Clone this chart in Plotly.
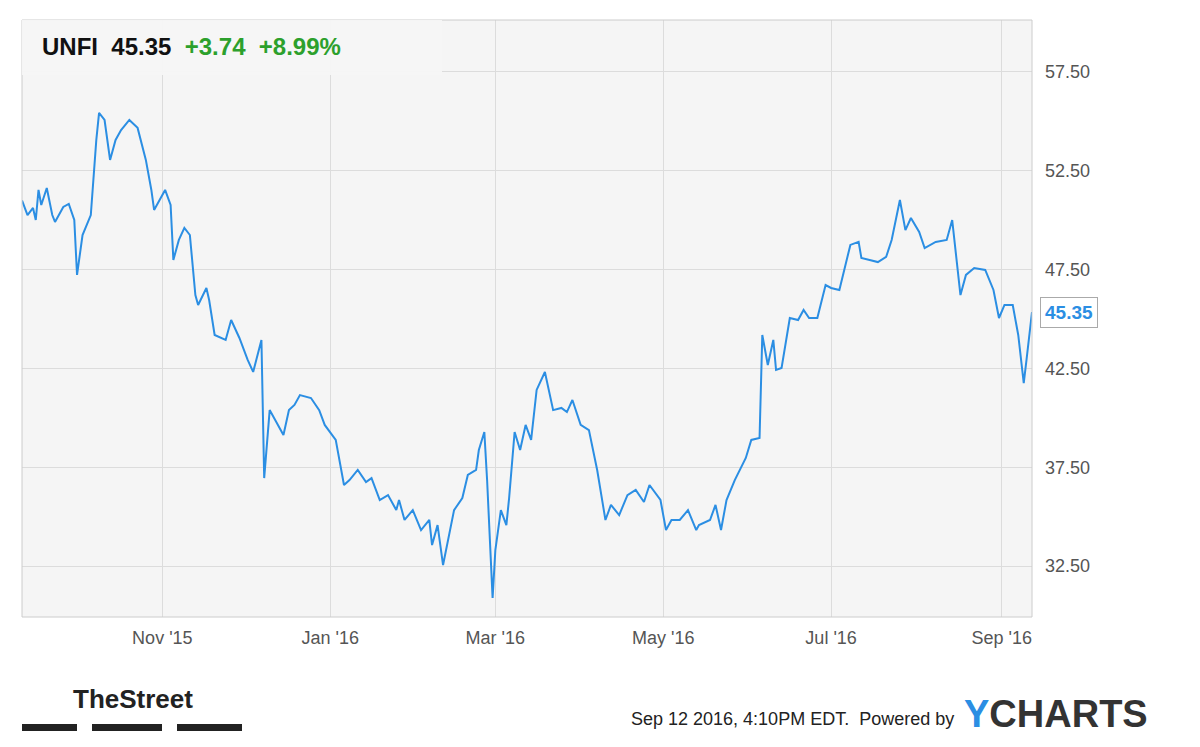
import plotly.graph_objects as go

dates = ["2015-09-11","2015-09-13","2015-09-15","2015-09-16","2015-09-17","2015-09-18","2015-09-20","2015-09-22","2015-09-23","2015-09-26","2015-09-28","2015-09-30","2015-10-01","2015-10-03","2015-10-06","2015-10-08","2015-10-09","2015-10-11","2015-10-13","2015-10-15","2015-10-17","2015-10-20","2015-10-23","2015-10-26","2015-10-28","2015-10-29","2015-10-31","2015-11-02","2015-11-04","2015-11-05","2015-11-07","2015-11-09","2015-11-11","2015-11-13","2015-11-14","2015-11-17","2015-11-18","2015-11-20","2015-11-24","2015-11-26","2015-11-29","2015-12-02","2015-12-04","2015-12-06","2015-12-07","2015-12-08","2015-12-10","2015-12-12","2015-12-15","2015-12-17","2015-12-19","2015-12-21","2015-12-25","2015-12-28","2015-12-30","2016-01-03","2016-01-06","2016-01-08","2016-01-11","2016-01-14","2016-01-16","2016-01-19","2016-01-22","2016-01-25","2016-01-26","2016-01-28","2016-01-31","2016-02-03","2016-02-06","2016-02-07","2016-02-09","2016-02-11","2016-02-13","2016-02-15","2016-02-18","2016-02-20","2016-02-23","2016-02-24","2016-02-26","2016-02-27","2016-02-29","2016-03-01","2016-03-03","2016-03-05","2016-03-06","2016-03-08","2016-03-10","2016-03-12","2016-03-14","2016-03-16","2016-03-19","2016-03-22","2016-03-25","2016-03-27","2016-03-29","2016-04-01","2016-04-04","2016-04-07","2016-04-10","2016-04-12","2016-04-15","2016-04-18","2016-04-21","2016-04-24","2016-04-26","2016-04-30","2016-05-02","2016-05-04","2016-05-07","2016-05-10","2016-05-13","2016-05-14","2016-05-18","2016-05-20","2016-05-22","2016-05-24","2016-05-27","2016-05-31","2016-06-02","2016-06-05","2016-06-06","2016-06-08","2016-06-10","2016-06-11","2016-06-13","2016-06-16","2016-06-19","2016-06-21","2016-06-23","2016-06-26","2016-06-29","2016-07-01","2016-07-04","2016-07-06","2016-07-08","2016-07-11","2016-07-12","2016-07-15","2016-07-18","2016-07-21","2016-07-23","2016-07-26","2016-07-28","2016-07-30","2016-08-01","2016-08-02","2016-08-04","2016-08-08","2016-08-12","2016-08-14","2016-08-17","2016-08-19","2016-08-22","2016-08-26","2016-08-29","2016-08-31","2016-09-02","2016-09-05","2016-09-07","2016-09-09","2016-09-10","2016-09-12"]
prices = [51.0,50.26,50.62,50.01,51.53,50.77,51.63,50.26,49.91,50.67,50.82,50.01,47.23,49.25,50.26,54.06,55.43,55.07,53.05,54.06,54.56,55.07,54.67,53.05,51.53,50.52,51.02,51.53,50.77,47.99,49.0,49.61,49.25,46.21,45.71,46.57,45.96,44.19,43.94,44.95,44.04,42.93,42.32,43.43,43.94,36.95,40.39,39.89,39.13,40.39,40.65,41.15,41.0,40.39,39.64,38.88,36.6,36.85,37.36,36.75,36.95,35.84,36.09,35.33,35.84,34.83,35.33,34.32,34.83,33.56,34.57,32.55,33.92,35.33,35.94,37.11,37.36,38.37,39.28,36.85,30.88,33.31,35.33,34.57,35.94,39.28,38.37,39.64,38.88,41.41,42.32,40.39,40.5,40.29,40.9,39.64,39.38,37.36,34.83,35.59,35.08,36.09,36.35,35.74,36.6,35.84,34.32,34.83,34.83,35.33,34.32,34.57,34.83,35.59,34.32,35.84,36.85,37.97,38.88,38.98,44.19,42.67,43.94,42.42,42.52,45.05,44.95,45.46,45.05,45.05,46.72,46.57,46.47,47.58,48.75,48.9,48.09,47.99,47.88,48.14,49.0,51.02,49.5,50.11,49.61,49.4,48.59,48.9,49.0,50.01,46.21,47.23,47.58,47.48,46.47,45.05,45.71,45.71,44.19,41.76,42.93,45.35]

tick_dates = ["2015-11-01","2016-01-01","2016-03-01","2016-05-01","2016-07-01","2016-09-01"]
tick_labels = ["Nov '15","Jan '16","Mar '16","May '16","Jul '16","Sep '16"]
y_ticks = [32.5,37.5,42.5,47.5,52.5,57.5]
last_price = prices[-1]

W, H = 1010, 597  # plot area size in px

fig = go.Figure(go.Scatter(x=dates, y=prices, mode="lines",
                           line=dict(color="#2b8ee3", width=2), hoverinfo="skip"))

fig.update_layout(
    width=1184, height=731, paper_bgcolor="white", plot_bgcolor="#f5f5f5",
    margin=dict(l=14, r=160, t=12, b=122), showlegend=False,
    font=dict(family="Liberation Sans, Arial", color="#555555", size=18),
    xaxis=dict(range=["2015-09-11","2016-09-12"], tickvals=tick_dates, ticktext=tick_labels,
               showgrid=True, gridcolor="#dcdcdc", gridwidth=1, zeroline=False, ticks="",
               ticklabelstandoff=8, showline=False),
    yaxis=dict(range=[29.92,60.13], side="right", tickvals=y_ticks,
               tickformat=".2f", showgrid=True, gridcolor="#dcdcdc", zeroline=False, ticks="",
               ticklabelstandoff=12, showline=False),
)
fig.add_shape(type="rect", xref="paper", yref="paper", x0=0, x1=1, y0=0, y1=1,
              line=dict(color="#cccccc", width=1))
fig.add_shape(type="rect", xref="paper", yref="paper", x0=0, x1=420/W, y0=1-55/H, y1=1,
              fillcolor="rgba(245,245,245,0.95)", line=dict(width=0), layer="above")
fig.add_annotation(xref="paper", yref="paper", x=18/W, y=1-27/H, xanchor="left", yanchor="middle",
                   showarrow=False,
                   text="<b><span style='color:#111'>UNFI</span>  <span style='color:#111'>45.35</span>  "
                        "<span style='color:#2ca02c'>+3.74</span>  <span style='color:#2ca02c'>+8.99%</span></b>",
                   font=dict(size=24, family="Liberation Sans, Arial"))
fig.add_annotation(xref="paper", yref="y", x=1.008, y=last_price, xanchor="left", yanchor="middle",
                   showarrow=False, text="<b>45.35</b>", font=dict(size=19, color="#2b8ee3"),
                   bgcolor="white", bordercolor="#aaaaaa", borderwidth=1, borderpad=4)
fig.add_annotation(xref="paper", yref="paper", x=111/W, y=-82/H, xanchor="center", yanchor="middle",
                   showarrow=False, text="<b>TheStreet</b>",
                   font=dict(size=26, color="#222", family="Liberation Sans Narrow, Liberation Sans"))
for x0, x1 in [(0, 55), (70, 140), (155, 220)]:
    fig.add_shape(type="rect", xref="paper", yref="paper", x0=x0/W, x1=x1/W,
                  y0=-114/H, y1=-107/H, fillcolor="#222", line=dict(width=0))
fig.add_annotation(xref="paper", yref="paper", x=934/W, y=-102/H, xanchor="right", yanchor="middle",
                   showarrow=False, text="Sep 12 2016, 4:10PM EDT.  Powered by",
                   font=dict(size=18, color="#222"))
fig.add_annotation(xref="paper", yref="paper", x=940/W, y=-97/H, xanchor="left", yanchor="middle",
                   showarrow=False, text="<b><span style='color:#2b8ee3'>Y</span>CHARTS</b>",
                   font=dict(size=38, color="#333"))

fig.write_html("out.html")
